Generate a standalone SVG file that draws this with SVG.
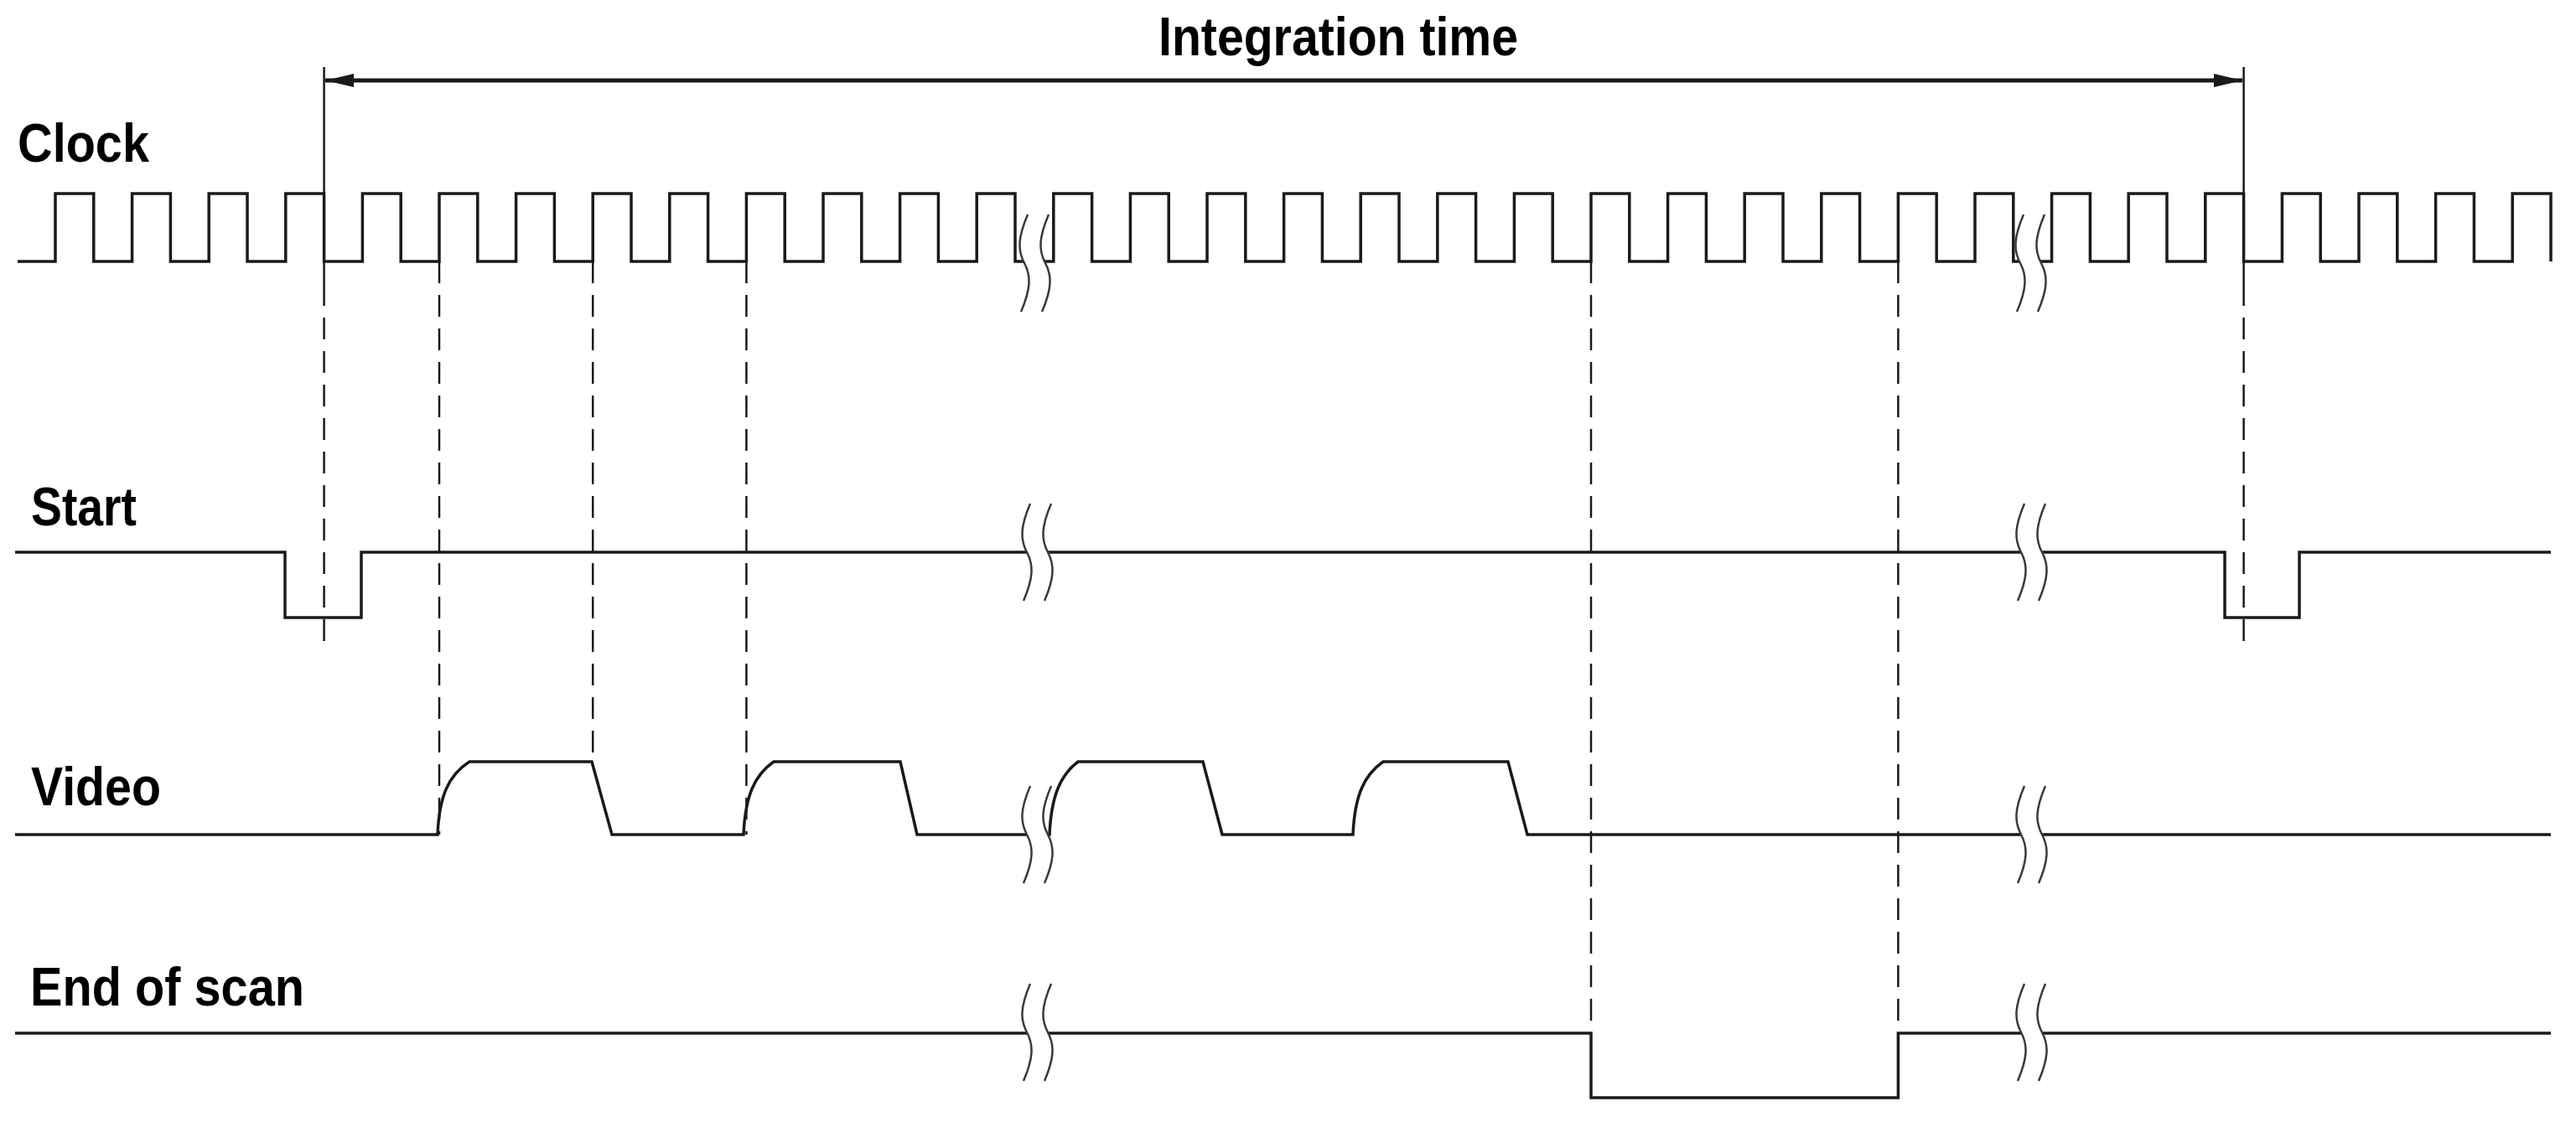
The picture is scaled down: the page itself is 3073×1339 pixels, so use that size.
<svg xmlns="http://www.w3.org/2000/svg" xmlns:xlink="http://www.w3.org/1999/xlink" width="3073" height="1339" viewBox="0 0 3073 1339">
<style>
.sig{fill:none;stroke:#1a1a1a;stroke-width:3.5;stroke-linejoin:miter}
.dash{fill:none;stroke:#1a1a1a;stroke-width:2.5;stroke-dasharray:26 14}
.solid{fill:none;stroke:#1a1a1a;stroke-width:2.5}
.wv{fill:none;stroke:#3a3a3a;stroke-width:2.5}
.lbl{font-family:"Liberation Sans",Arial,sans-serif;font-weight:bold;font-size:64px;fill:#000}
</style>
<defs>
<marker id="ah" markerUnits="userSpaceOnUse" markerWidth="36" markerHeight="20" refX="34" refY="10" orient="auto-start-reverse">
<path d="M0,2 L34,10 L0,18 Z" fill="#1a1a1a"/>
</marker>
<g id="brk">
<path fill="#fff" stroke="none" d="M4,-58 C-8,-30 -8,-15 0,0 C8,15 8,30 -4,58 L21,58 C33,30 33,15 25,0 C17,-15 17,-30 29,-58 Z"/>
<path class="wv" d="M4,-58 C-8,-30 -8,-15 0,0 C8,15 8,30 -4,58 M29,-58 C17,-30 17,-15 25,0 C33,15 33,30 21,58"/>
</g>
</defs>
<rect width="3073" height="1339" fill="#fff"/>
<g id="labels">
<text class="lbl" x="1382" y="66" textLength="429" lengthAdjust="spacingAndGlyphs">Integration time</text>
<text class="lbl" x="21" y="193" textLength="157" lengthAdjust="spacingAndGlyphs">Clock</text>
<text class="lbl" x="37" y="627" textLength="126" lengthAdjust="spacingAndGlyphs">Start</text>
<text class="lbl" x="37" y="961" textLength="155" lengthAdjust="spacingAndGlyphs">Video</text>
<text class="lbl" x="36" y="1200" textLength="327" lengthAdjust="spacingAndGlyphs">End of scan</text>
</g>
<g id="connectors">
<line class="solid" x1="386.6" y1="80" x2="386.6" y2="339"/>
<line class="dash" x1="386.6" y1="339" x2="386.6" y2="778"/>
<line class="solid" x1="2676.6" y1="80" x2="2676.6" y2="339"/>
<line class="dash" x1="2676.6" y1="339" x2="2676.6" y2="778"/>
<line class="dash" x1="524" y1="312" x2="524" y2="996"/>
<line class="dash" x1="707.2" y1="312" x2="707.2" y2="909"/>
<line class="dash" x1="890.4" y1="312" x2="890.4" y2="996"/>
<line class="dash" x1="1898" y1="312" x2="1898" y2="1233"/>
<line class="dash" x1="2264.4" y1="312" x2="2264.4" y2="1233"/>
<line x1="388" y1="96" x2="2675" y2="96" stroke="#1a1a1a" stroke-width="5" marker-start="url(#ah)" marker-end="url(#ah)"/>
</g>
<g id="clock">
<path class="sig" d="M21,312 H66 V231 H111.8 V312 H157.6 V231 H203.4 V312 H249.2 V231 H295 V312 H340.8 V231 H386.6 V312 H432.4 V231 H478.2 V312 H524 V231 H569.8 V312 H615.6 V231 H661.4 V312 H707.2 V231 H753 V312 H798.8 V231 H844.6 V312 H890.4 V231 H936.2 V312 H982 V231 H1027.8 V312 H1073.6 V231 H1119.4 V312 H1165.2 V231 H1211 V312 H1256.8 V231 H1302.6 V312 H1348.4 V231 H1394.2 V312 H1440 V231 H1485.8 V312 H1531.6 V231 H1577.4 V312 H1623.2 V231 H1669 V312 H1714.8 V231 H1760.6 V312 H1806.4 V231 H1852.2 V312 H1898 V231 H1943.8 V312 H1989.6 V231 H2035.4 V312 H2081.2 V231 H2127 V312 H2172.8 V231 H2218.6 V312 H2264.4 V231 H2310.2 V312 H2356 V231 H2401.8 V312 H2447.6 V231 H2493.4 V312 H2539.2 V231 H2585 V312 H2630.8 V231 H2676.6 V312 H2722.4 V231 H2768.2 V312 H2814 V231 H2859.8 V312 H2905.6 V231 H2951.4 V312 H2997.2 V231 H3043 V312"/>
<use xlink:href="#brk" x="1222" y="314"/>
<use xlink:href="#brk" x="2410" y="314"/>
</g>
<g id="start">
<path class="sig" d="M18,659 H340 V737 H431 V659 H2654 V737 H2743 V659 H3043"/>
<use xlink:href="#brk" x="1225" y="659"/>
<use xlink:href="#brk" x="2411" y="659"/>
</g>
<g id="video">
<path class="sig" d="M18,996 H522 C524,950 535,925 560,909 H706 L730,996 H887 C889,950 900,925 923,909 H1074 L1094,996 H1252 C1254,950 1265,925 1286,909 H1435 L1458,996 H1614 C1616,950 1627,925 1650,909 H1799 L1822,996 H3043"/>
<use xlink:href="#brk" x="1225" y="996"/>
<use xlink:href="#brk" x="2411" y="996"/>
</g>
<g id="eos">
<path class="sig" d="M18,1233 H1898 V1310 H2264.4 V1233 H3043"/>
<use xlink:href="#brk" x="1225" y="1232"/>
<use xlink:href="#brk" x="2411" y="1232"/>
</g>
</svg>
